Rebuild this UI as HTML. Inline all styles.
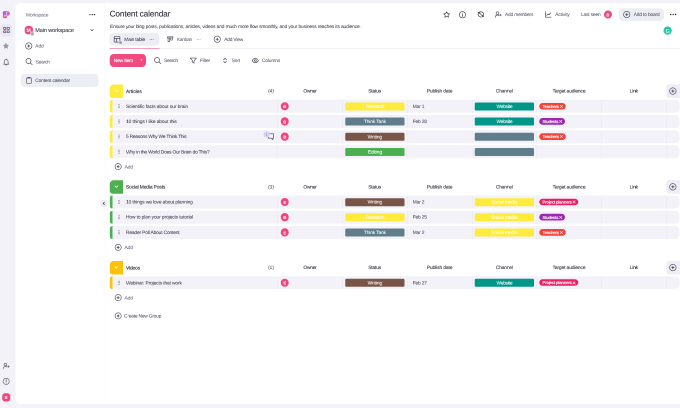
<!DOCTYPE html>
<html lang="en">
<head>
<meta charset="utf-8">
<meta name="viewport" content="width=680">
<title>Content calendar</title>
<style>
*{box-sizing:border-box;margin:0;padding:0}
html,body{width:680px;height:408px;overflow:hidden;background:#f3f2f9}
body{font-family:"Liberation Sans",Arial,Helvetica,sans-serif;position:relative;text-rendering:geometricPrecision;-webkit-font-smoothing:antialiased}
#wrap{position:absolute;left:0;top:0;width:1360px;height:816px;transform:scale(.5);transform-origin:0 0;will-change:transform;overflow:hidden;background:#f3f2f9}
#app{position:absolute;left:0;top:0;width:2720px;height:1632px;transform:scale(.5);transform-origin:0 0;background:#f3f2f9;overflow:hidden}
#app div,#app svg,#app .t{position:absolute}
.t{white-space:nowrap;display:block}
nav,aside,main,header,section{display:block;position:static}
</style>
</head>
<body>
<div id="wrap">
<div id="app">
<div style="left:61.8px;top:12px;width:2662px;height:1604px;background:#fff;border-radius:18px 0px 0px 18px;"></div>
<nav class="rail" aria-label="Primary">
<svg class="i" style="left:10.4px;top:42.8px;width:30.4px;height:30px" viewBox="0 0 24 24"><defs><linearGradient id="lg" x1="0" y1="0" x2="0.35" y2="1"><stop offset="0" stop-color="#7468f8"/><stop offset=".5" stop-color="#b765e6"/><stop offset="1" stop-color="#f5486f"/></linearGradient><linearGradient id="lg2" x1="0" y1="0" x2="1" y2="1"><stop offset="0" stop-color="#c77ae8"/><stop offset="1" stop-color="#f4517f"/></linearGradient></defs><path d="M1 6a5 5 0 0 1 5-5h8v18.500a4.500 4.500 0 0 1-4.500 4.500h-4a4.500 4.500 0 0 1-4.500-4.500z" fill="url(#lg)"/><path d="M13 1.500h3.500a7 7 0 0 1 0 14H13z" fill="url(#lg2)"/><path d="M12.700 4v10M5 14.500h6.500M5 19.500h4" fill="none" stroke="#fff" stroke-width="2" stroke-linecap="round" opacity=".8"/></svg>
<div style="left:1.2px;top:96.4px;width:48px;height:51.2px;background:#e8e7f2;border-radius:16.8px;"></div>
<div style="left:12.6px;top:108.2px;width:12px;height:11.2px;border-radius:2.8px;border:3.8px solid #714a68;"></div>
<div style="left:26.6px;top:108.2px;width:12px;height:11.2px;border-radius:2.8px;border:3.8px solid #5c5c8a;"></div>
<div style="left:12.6px;top:122.2px;width:12px;height:9.6px;border-radius:2.8px;border:3.8px solid #933f5c;"></div>
<div style="left:26.6px;top:122.2px;width:12px;height:9.6px;border-radius:2.8px;border:3.8px solid #58649c;"></div>
<svg class="i" style="left:9.2px;top:169.2px;width:29.6px;height:29.6px;color:#9898a2;" viewBox="0 0 24 24" fill="currentColor" stroke="currentColor" stroke-width="1.4" stroke-linecap="round" stroke-linejoin="round"><path d="M12 3l2.700 5.700 6.300.800-4.600 4.400 1.200 6.200L12 17l-5.600 3.100 1.200-6.200L3 9.500l6.300-.800z"/></svg>
<svg class="i" style="left:8.8px;top:231.6px;width:31.2px;height:31.2px;color:#55556a;" viewBox="0 0 24 24" fill="none" stroke="currentColor" stroke-width="2.0" stroke-linecap="round" stroke-linejoin="round"><path d="M6 17V11a6 6 0 0 1 12 0v6l2 2.200H4zM9.500 21.500h5M12 3v2"/></svg>
<svg class="i" style="left:10px;top:1448.8px;width:30.4px;height:30.4px;color:#4a4a5c;" viewBox="0 0 24 24" fill="none" stroke="currentColor" stroke-width="1.8" stroke-linecap="round" stroke-linejoin="round"><circle cx="9.500" cy="7.500" r="4.400"/><path d="M2.200 21c.300-4.800 3.300-7.400 7.300-7.400 2 0 3.600.600 4.900 1.800M19 10.500v6M16 13.500h6"/></svg>
<svg class="i" style="left:9.4px;top:1510.4px;width:31.2px;height:31.2px;color:#4a4a5c;" viewBox="0 0 24 24" fill="none" stroke="currentColor" stroke-width="1.8" stroke-linecap="round" stroke-linejoin="round"><circle cx="12" cy="12" r="9.500"/><path d="M12 6.500v7M12 17v.500" stroke-width="2.200"/></svg>
<div style="left:8.8px;top:1573.2px;width:32px;height:32.4px;background:#f0457d;border-radius:11.2px;"></div>
<span id="t1" class="t" style="top:1579.17px;font-size:16.8px;line-height:23.52px;color:#fff;font-weight:700;left:24.8px;transform:translateX(-50%);">B</span>
</nav>
<aside class="sidebar" aria-label="Workspace">
<span id="t2" class="t" style="top:46.79px;font-size:19.2px;line-height:26.88px;color:#767688;-webkit-text-stroke:0.2px #767688;letter-spacing:-0.625px;left:103px;">Workspace</span>
<div style="left:356.6px;top:55.6px;width:5.6px;height:5.6px;background:#33333f;border-radius:2.8px;"></div>
<div style="left:366px;top:55.6px;width:5.6px;height:5.6px;background:#33333f;border-radius:2.8px;"></div>
<div style="left:375.4px;top:55.6px;width:5.6px;height:5.6px;background:#33333f;border-radius:2.8px;"></div>
<div style="left:98.8px;top:104.4px;width:32.8px;height:32.8px;background:#f0457d;border-radius:12px;"></div>
<span id="t3" class="t" style="top:106.61px;font-size:20.8px;line-height:29.12px;color:#fff;font-weight:700;left:114.8px;transform:translateX(-50%);">M</span>
<div style="left:119.6px;top:126.4px;width:18.4px;height:18.4px;background:#adadb9;border-radius:9.2px;border:2.4px solid #fff;"></div>
<span id="t4" class="t" style="top:104.62px;font-size:22.4px;line-height:31.36px;color:#464652;-webkit-text-stroke:0.48px #464652;letter-spacing:-0.556px;left:141px;">Main workspace</span>
<svg class="i" style="left:357.6px;top:110.4px;width:20.8px;height:20.8px;color:#33333f;" viewBox="0 0 24 24" fill="none" stroke="currentColor" stroke-width="2.6" stroke-linecap="round" stroke-linejoin="round"><path d="M6 9l6 6 6-6"/></svg>
<svg class="i" style="left:99px;top:168px;width:32px;height:32px;color:#4a4a5a;" viewBox="0 0 24 24" fill="none" stroke="currentColor" stroke-width="1.9" stroke-linecap="round" stroke-linejoin="round"><circle cx="12" cy="12" r="9.5"/><path d="M12 8.700v6.600M8.700 12h6.600" stroke-width="2.600"/></svg>
<span id="t5" class="t" style="top:171.79px;font-size:19.2px;line-height:26.88px;color:#666678;-webkit-text-stroke:0.2px #666678;letter-spacing:-0.047px;left:141px;">Add</span>
<svg class="i" style="left:100px;top:230.4px;width:32px;height:32px;color:#4a4a5a;" viewBox="0 0 24 24" fill="none" stroke="currentColor" stroke-width="2.0" stroke-linecap="round" stroke-linejoin="round"><circle cx="10.5" cy="10.5" r="7.5"/><path d="M16 16l5.5 5.5"/></svg>
<span id="t6" class="t" style="top:235.39px;font-size:19.2px;line-height:26.88px;color:#666678;-webkit-text-stroke:0.2px #666678;letter-spacing:-0.799px;left:143px;">Search</span>
<div style="left:82.4px;top:282.8px;width:313.6px;height:1.2px;background:#ececf3;"></div>
<div style="left:83px;top:295.2px;width:312.4px;height:52.8px;background:#ededf4;border-radius:16px;"></div>
<svg class="i" style="left:100px;top:305.2px;width:31.2px;height:31.2px;color:#55556a;" viewBox="0 0 24 24" fill="none" stroke="currentColor" stroke-width="2.0" stroke-linecap="round" stroke-linejoin="round"><rect x="4.5" y="5" width="15" height="17" rx="2.5"/><path d="M8.5 5V3.2h7V5" /><path d="M8.5 5.2h7" stroke-width="2.6"/></svg>
<span id="t7" class="t" style="top:309.39px;font-size:19.2px;line-height:26.88px;color:#4c4c5e;-webkit-text-stroke:0.2px #4c4c5e;letter-spacing:-0.446px;left:141px;">Content calendar</span>
<div style="left:417.6px;top:12px;width:1.6px;height:1584px;background:#ececf3;"></div>
<div style="left:401.6px;top:799.6px;width:28px;height:28px;background:#ececf3;border-radius:8px;"></div>
<svg class="i" style="left:405.6px;top:804px;width:19.2px;height:19.2px;color:#2c2c38;" viewBox="0 0 24 24" fill="none" stroke="currentColor" stroke-width="3.4" stroke-linecap="round" stroke-linejoin="round"><path d="M14.500 6l-6 6 6 6"/></svg>
</aside>
<main class="board">
<header class="board-header">
<span id="t8" class="t" style="top:32.43px;font-size:33.2px;line-height:46.48px;color:#33333f;-webkit-text-stroke:0.4px #33333f;letter-spacing:-0.648px;left:438.4px;">Content calendar</span>
<span id="t9" class="t" style="top:93.79px;font-size:19.2px;line-height:26.88px;color:#444454;-webkit-text-stroke:0.2px #444454;letter-spacing:-0.444px;left:440px;">Ensure your blog posts, publications, articles, videos and much more flow smoothly, and your business reaches its audience.</span>
<svg class="i" style="left:1771.4px;top:42.8px;width:31.2px;height:31.2px;color:#3a3a4a;" viewBox="0 0 24 24" fill="none" stroke="currentColor" stroke-width="2.0" stroke-linecap="round" stroke-linejoin="round"><path d="M12 3l2.700 5.700 6.300.800-4.600 4.400 1.200 6.200L12 17l-5.600 3.100 1.200-6.200L3 9.500l6.300-.800z"/></svg>
<svg class="i" style="left:1833.6px;top:42.8px;width:32px;height:32px;color:#3a3a4a;" viewBox="0 0 24 24" fill="none" stroke="currentColor" stroke-width="1.8" stroke-linecap="round" stroke-linejoin="round"><circle cx="12" cy="12" r="9.500"/><path d="M12 11v6M12 7.200v.600" stroke-width="2.2"/></svg>
<div style="left:1885.6px;top:32px;width:1.4px;height:52px;background:#e0e0e8;"></div>
<svg class="i" style="left:1908.4px;top:42.4px;width:31.2px;height:31.2px;color:#3a3a4a;" viewBox="0 0 24 24" fill="none" stroke="currentColor" stroke-width="2.0" stroke-linecap="round" stroke-linejoin="round"><path d="M5.500 6.500A9 9 0 0 1 20.500 15M18.500 17.500A9 9 0 0 1 3.500 9M6 6l12 12"/><path d="M2.500 5.500l4.500 0 0 4.500zM21.500 18.500l-4.500 0 0-4.500z" fill="currentColor" stroke-width="1"/></svg>
<svg class="i" style="left:1978px;top:42.8px;width:30.4px;height:30.4px;color:#3a3a4a;" viewBox="0 0 24 24" fill="none" stroke="currentColor" stroke-width="1.8" stroke-linecap="round" stroke-linejoin="round"><circle cx="9.500" cy="7.500" r="4.400"/><path d="M2.200 21c.300-4.800 3.300-7.400 7.300-7.400 2 0 3.600.600 4.900 1.800M19 10.500v6M16 13.500h6"/></svg>
<span id="t10" class="t" style="top:46.19px;font-size:19.2px;line-height:26.88px;color:#5a5a6c;-webkit-text-stroke:0.2px #5a5a6c;letter-spacing:-0.585px;left:2020px;">Add members</span>
<svg class="i" style="left:2178.4px;top:42.4px;width:30.4px;height:30.4px;color:#3a3a4a;" viewBox="0 0 24 24" fill="none" stroke="currentColor" stroke-width="2.0" stroke-linecap="round" stroke-linejoin="round"><path d="M3 3v18h18M7 15.500l4-5 3.500 3L20 7"/></svg>
<span id="t11" class="t" style="top:46.19px;font-size:19.2px;line-height:26.88px;color:#5a5a6c;-webkit-text-stroke:0.2px #5a5a6c;letter-spacing:-0.348px;left:2221px;">Activity</span>
<span id="t12" class="t" style="top:46.19px;font-size:19.2px;line-height:26.88px;color:#5a5a6c;-webkit-text-stroke:0.2px #5a5a6c;letter-spacing:-0.580px;left:2324px;">Last seen</span>
<div style="left:2415.8px;top:42.4px;width:32px;height:32px;background:#f0457d;border-radius:16px;"></div>
<span id="t13" class="t" style="top:48.37px;font-size:16.8px;line-height:23.52px;color:#fff;font-weight:700;left:2431.8px;transform:translateX(-50%);">B</span>
<div style="left:2476px;top:32.8px;width:180px;height:51.6px;background:#ededf4;border-radius:15.2px;"></div>
<svg class="i" style="left:2491px;top:42.4px;width:32px;height:32px;color:#4a4a5a;" viewBox="0 0 24 24" fill="none" stroke="currentColor" stroke-width="1.9" stroke-linecap="round" stroke-linejoin="round"><circle cx="12" cy="12" r="9.5"/><path d="M12 8.700v6.600M8.700 12h6.600" stroke-width="2.600"/></svg>
<span id="t14" class="t" style="top:46.19px;font-size:19.2px;line-height:26.88px;color:#55556a;-webkit-text-stroke:0.2px #55556a;letter-spacing:-0.574px;left:2535px;">Add to board</span>
<div style="left:2680.2px;top:55.2px;width:5.6px;height:5.6px;background:#33333f;border-radius:2.8px;"></div>
<div style="left:2689.6px;top:55.2px;width:5.6px;height:5.6px;background:#33333f;border-radius:2.8px;"></div>
<div style="left:2699px;top:55.2px;width:5.6px;height:5.6px;background:#33333f;border-radius:2.8px;"></div>
<div style="left:2654.4px;top:106.4px;width:32.8px;height:32.8px;background:#1cc69d;border-radius:16.4px;"></div>
<span id="t15" class="t" style="top:108.62px;font-size:22.4px;line-height:31.36px;color:#fff;-webkit-text-stroke:0.32px #fff;left:2670.8px;transform:translateX(-50%);">G</span>
</header>
<nav class="views" aria-label="Views">
<div style="left:438px;top:131px;width:200px;height:52px;background:#ededf4;border-radius:15.2px;"></div>
<svg class="i" style="left:453.2px;top:141.6px;width:30.4px;height:30.4px;color:#4a4a5a;" viewBox="0 0 24 24" fill="none" stroke="currentColor" stroke-width="2.2" stroke-linecap="round" stroke-linejoin="round"><rect x="3" y="3" width="18" height="18" rx="2"/><path d="M3 9h18M10 9v12"/></svg>
<div style="left:474.4px;top:163.2px;width:15.2px;height:15.2px;background:#9a9aa8;border-radius:7.6px;border:2px solid #f0f0f7;"></div>
<span id="t16" class="t" style="top:144.99px;font-size:19.2px;line-height:26.88px;color:#3a3a4a;-webkit-text-stroke:0.2px #3a3a4a;letter-spacing:-0.553px;left:497px;">Main table</span>
<div style="left:599.12px;top:155.92px;width:3.36px;height:3.36px;background:#55556a;border-radius:1.68px;"></div>
<div style="left:605.32px;top:155.92px;width:3.36px;height:3.36px;background:#55556a;border-radius:1.68px;"></div>
<div style="left:611.52px;top:155.92px;width:3.36px;height:3.36px;background:#55556a;border-radius:1.68px;"></div>
<svg class="i" style="left:664.8px;top:141.6px;width:31.2px;height:31.2px;color:#4a4a5a;" viewBox="0 0 24 24" fill="none" stroke="currentColor" stroke-width="1.9" stroke-linecap="round" stroke-linejoin="round"><path d="M3.500 4h17v3.500h-17zM5.500 7.500v11h5v-11M13.500 7.500v6.500h5v-6.500"/></svg>
<span id="t17" class="t" style="top:144.99px;font-size:19.2px;line-height:26.88px;color:#66667a;-webkit-text-stroke:0.2px #66667a;letter-spacing:-0.859px;left:707px;">Kanban</span>
<div style="left:786.52px;top:155.92px;width:3.36px;height:3.36px;background:#77778a;border-radius:1.68px;"></div>
<div style="left:792.72px;top:155.92px;width:3.36px;height:3.36px;background:#77778a;border-radius:1.68px;"></div>
<div style="left:798.92px;top:155.92px;width:3.36px;height:3.36px;background:#77778a;border-radius:1.68px;"></div>
<svg class="i" style="left:853.2px;top:140.8px;width:32px;height:32px;color:#4a4a5a;" viewBox="0 0 24 24" fill="none" stroke="currentColor" stroke-width="1.9" stroke-linecap="round" stroke-linejoin="round"><circle cx="12" cy="12" r="9.5"/><path d="M12 8.700v6.600M8.700 12h6.600" stroke-width="2.600"/></svg>
<span id="t18" class="t" style="top:144.99px;font-size:19.2px;line-height:26.88px;color:#55556a;-webkit-text-stroke:0.2px #55556a;letter-spacing:-0.715px;left:897px;">Add View</span>
<div style="left:438px;top:192px;width:2282px;height:2px;background:#e3e3eb;"></div>
<div style="left:438px;top:192px;width:200px;height:3px;background:#f27fa4;"></div>
</nav>
<section class="toolbar" aria-label="Toolbar">
<div style="left:438.8px;top:216.4px;width:145.6px;height:51.6px;background:#f14a80;border-radius:16px;"></div>
<span id="t19" class="t" style="top:230.19px;font-size:19.2px;line-height:26.88px;color:#fff;-webkit-text-stroke:0.52px #fff;letter-spacing:-0.506px;left:455px;">New Item</span>
<div style="left:561.4px;top:238px;width:0;height:0;border-left:5px solid transparent;border-right:5px solid transparent;border-top:5.8px solid #fff"></div>
<svg class="i" style="left:614px;top:226px;width:32px;height:32px;color:#4a4a5a;" viewBox="0 0 24 24" fill="none" stroke="currentColor" stroke-width="2.0" stroke-linecap="round" stroke-linejoin="round"><circle cx="10.5" cy="10.5" r="7.5"/><path d="M16 16l5.5 5.5"/></svg>
<span id="t20" class="t" style="top:229.79px;font-size:19.2px;line-height:26.88px;color:#5e5e74;-webkit-text-stroke:0.2px #5e5e74;letter-spacing:-0.966px;left:656px;">Search</span>
<svg class="i" style="left:756.8px;top:225.6px;width:32.8px;height:32.8px;color:#4a4a5a;" viewBox="0 0 24 24" fill="none" stroke="currentColor" stroke-width="2.0" stroke-linecap="round" stroke-linejoin="round"><path d="M3 4.5h18l-7 8.5v6.5l-4 -2V13z"/></svg>
<span id="t21" class="t" style="top:229.79px;font-size:19.2px;line-height:26.88px;color:#5e5e74;-webkit-text-stroke:0.2px #5e5e74;letter-spacing:-0.440px;left:800px;">Filter</span>
<svg class="i" style="left:884.8px;top:226.8px;width:30.4px;height:30.4px;color:#4a4a5a;" viewBox="0 0 24 24" fill="none" stroke="currentColor" stroke-width="2.2" stroke-linecap="round" stroke-linejoin="round"><path d="M7.5 9.5L12 5l4.5 4.5M7.5 14.5L12 19l4.5-4.5"/></svg>
<span id="t22" class="t" style="top:229.79px;font-size:19.2px;line-height:26.88px;color:#5e5e74;-webkit-text-stroke:0.2px #5e5e74;letter-spacing:-0.551px;left:927px;">Sort</span>
<svg class="i" style="left:1006px;top:226.8px;width:30.4px;height:30.4px;color:#4a4a5a;" viewBox="0 0 24 24" fill="none" stroke="currentColor" stroke-width="2.1" stroke-linecap="round" stroke-linejoin="round"><path d="M2.500 12c2.500-4.800 5.800-7 9.500-7s7 2.200 9.500 7c-2.500 4.800-5.800 7-9.500 7s-7-2.200-9.500-7z"/><circle cx="12" cy="12" r="3.200"/></svg>
<span id="t23" class="t" style="top:229.79px;font-size:19.2px;line-height:26.88px;color:#5e5e74;-webkit-text-stroke:0.2px #5e5e74;letter-spacing:-0.531px;left:1048px;">Columns</span>
</section>
<section class="group" aria-label="Articles">
<div style="left:439px;top:338px;width:53.4px;height:54px;background:#ffeb3b;border-radius:16px 0px 0px 12px;"></div>
<svg class="i" style="left:454.4px;top:352px;width:23.2px;height:23.2px;color:#fff;" viewBox="0 0 24 24" fill="none" stroke="currentColor" stroke-width="3.6" stroke-linecap="round" stroke-linejoin="round"><path d="M6 9l6 6 6-6"/></svg>
<span id="t24" class="t" style="top:351.5px;font-size:19.6px;line-height:27.44px;color:#363642;-webkit-text-stroke:0.52px #363642;letter-spacing:-0.156px;left:504px;">Articles</span>
<span id="t25" class="t" style="top:351.79px;font-size:19.2px;line-height:26.88px;color:#484856;-webkit-text-stroke:0.2px #484856;left:1084px;transform:translateX(-50%);">(4)</span>
<span id="t26" class="t" style="top:351.79px;font-size:19.2px;line-height:26.88px;color:#3a3a46;-webkit-text-stroke:0.44px #3a3a46;letter-spacing:-0.743px;left:1240px;transform:translateX(-50%);">Owner</span>
<span id="t27" class="t" style="top:351.79px;font-size:19.2px;line-height:26.88px;color:#3a3a46;-webkit-text-stroke:0.44px #3a3a46;letter-spacing:-0.534px;left:1498.4px;transform:translateX(-50%);">Status</span>
<span id="t28" class="t" style="top:351.79px;font-size:19.2px;line-height:26.88px;color:#3a3a46;-webkit-text-stroke:0.44px #3a3a46;letter-spacing:-0.301px;left:1758.4px;transform:translateX(-50%);">Publish date</span>
<span id="t29" class="t" style="top:351.79px;font-size:19.2px;line-height:26.88px;color:#3a3a46;-webkit-text-stroke:0.44px #3a3a46;letter-spacing:-0.612px;left:2017.2px;transform:translateX(-50%);">Channel</span>
<span id="t30" class="t" style="top:351.79px;font-size:19.2px;line-height:26.88px;color:#3a3a46;-webkit-text-stroke:0.44px #3a3a46;letter-spacing:-0.356px;left:2276px;transform:translateX(-50%);">Target audience</span>
<span id="t31" class="t" style="top:351.79px;font-size:19.2px;line-height:26.88px;color:#3a3a46;-webkit-text-stroke:0.44px #3a3a46;letter-spacing:-0.501px;left:2535.2px;transform:translateX(-50%);">Link</span>
<div style="left:2664.8px;top:337.2px;width:56px;height:54.8px;background:#efeef6;border-radius:12px 0px 0px 12px;"></div>
<svg class="i" style="left:2674.8px;top:348px;width:32.8px;height:32.8px;color:#4a4a5a;" viewBox="0 0 24 24" fill="none" stroke="currentColor" stroke-width="1.9" stroke-linecap="round" stroke-linejoin="round"><circle cx="12" cy="12" r="9.5"/><path d="M12 8.700v6.600M8.700 12h6.600" stroke-width="2.600"/></svg>
<div style="left:439px;top:399px;width:2279.4px;height:52px;background:#f3f2f9;border-radius:10.4px 18px 18px 10.4px;overflow:hidden;"><div style="left:0;top:0;width:10.8px;height:100%;background:#ffeb3b"></div></div>
<div style="left:1110px;top:399px;width:1.4px;height:52px;background:#dfdfe9;"></div>
<div style="left:1370px;top:399px;width:1.4px;height:52px;background:#dfdfe9;"></div>
<div style="left:1629.6px;top:399px;width:1.4px;height:52px;background:#dfdfe9;"></div>
<div style="left:1888px;top:399px;width:1.4px;height:52px;background:#dfdfe9;"></div>
<div style="left:2146px;top:399px;width:1.4px;height:52px;background:#dfdfe9;"></div>
<div style="left:2405px;top:399px;width:1.4px;height:52px;background:#dfdfe9;"></div>
<div style="left:2665.6px;top:399px;width:1.4px;height:52px;background:#dfdfe9;"></div>
<div style="left:473.92px;top:416.72px;width:4.16px;height:4.16px;background:#4c4c5c;border-radius:2.08px;"></div>
<div style="left:473.92px;top:422.72px;width:4.16px;height:4.16px;background:#4c4c5c;border-radius:2.08px;"></div>
<div style="left:473.92px;top:428.72px;width:4.16px;height:4.16px;background:#4c4c5c;border-radius:2.08px;"></div>
<span id="t32" class="t" style="top:412.59px;font-size:19.2px;line-height:26.88px;color:#3e3e4c;-webkit-text-stroke:0.2px #3e3e4c;letter-spacing:-0.283px;left:504px;">Scientific facts about our brain</span>
<div style="left:1122.8px;top:408.6px;width:32.4px;height:32.4px;background:#f0457d;border-radius:16.2px;"></div>
<span id="t33" class="t" style="top:414.97px;font-size:16.8px;line-height:23.52px;color:#fff;font-weight:700;left:1139px;transform:translateX(-50%);">B</span>
<div style="left:1381.2px;top:409.6px;width:236.4px;height:32px;background:#ffeb3b;border-radius:5.2px;"></div>
<span id="t34" class="t" style="top:412.99px;font-size:19.2px;line-height:26.88px;color:#fff;-webkit-text-stroke:0.2px #fff;letter-spacing:-1.016px;left:1499.6px;transform:translateX(-50%);">Research</span>
<span id="t35" class="t" style="top:412.59px;font-size:19.2px;line-height:26.88px;color:#505062;-webkit-text-stroke:0.2px #505062;letter-spacing:-0.609px;left:1651px;">Mar 1</span>
<div style="left:1898.8px;top:409.6px;width:237.6px;height:32px;background:#009688;border-radius:5.2px;"></div>
<span id="t36" class="t" style="top:412.99px;font-size:19.2px;line-height:26.88px;color:#fff;-webkit-text-stroke:0.2px #fff;letter-spacing:-0.824px;left:2017.6px;transform:translateX(-50%);">Website</span>
<div style="left:2157px;top:411.6px;width:106px;height:26.4px;background:#f44336;border-radius:13.2px;"></div>
<span id="t37" class="t" style="top:413.77px;font-size:16.8px;line-height:23.52px;color:#fff;-webkit-text-stroke:0.68px #fff;letter-spacing:-0.362px;left:2170px;">Teachers</span>
<span id="t38" class="t" style="top:408.85px;font-size:24.8px;line-height:34.72px;color:#fff;-webkit-text-stroke:0.4px #fff;left:2245.8px;transform:translateX(-50%);">×</span>
<div style="left:439px;top:459.8px;width:2279.4px;height:52px;background:#f3f2f9;border-radius:10.4px 18px 18px 10.4px;overflow:hidden;"><div style="left:0;top:0;width:10.8px;height:100%;background:#ffeb3b"></div></div>
<div style="left:1110px;top:459.8px;width:1.4px;height:52px;background:#dfdfe9;"></div>
<div style="left:1370px;top:459.8px;width:1.4px;height:52px;background:#dfdfe9;"></div>
<div style="left:1629.6px;top:459.8px;width:1.4px;height:52px;background:#dfdfe9;"></div>
<div style="left:1888px;top:459.8px;width:1.4px;height:52px;background:#dfdfe9;"></div>
<div style="left:2146px;top:459.8px;width:1.4px;height:52px;background:#dfdfe9;"></div>
<div style="left:2405px;top:459.8px;width:1.4px;height:52px;background:#dfdfe9;"></div>
<div style="left:2665.6px;top:459.8px;width:1.4px;height:52px;background:#dfdfe9;"></div>
<div style="left:473.92px;top:477.52px;width:4.16px;height:4.16px;background:#4c4c5c;border-radius:2.08px;"></div>
<div style="left:473.92px;top:483.52px;width:4.16px;height:4.16px;background:#4c4c5c;border-radius:2.08px;"></div>
<div style="left:473.92px;top:489.52px;width:4.16px;height:4.16px;background:#4c4c5c;border-radius:2.08px;"></div>
<span id="t39" class="t" style="top:473.39px;font-size:19.2px;line-height:26.88px;color:#3e3e4c;-webkit-text-stroke:0.2px #3e3e4c;letter-spacing:-0.304px;left:504px;">10 things I like about this</span>
<div style="left:1122.8px;top:469.4px;width:32.4px;height:32.4px;background:#f0457d;border-radius:16.2px;"></div>
<span id="t40" class="t" style="top:475.77px;font-size:16.8px;line-height:23.52px;color:#fff;font-weight:700;left:1139px;transform:translateX(-50%);">B</span>
<div style="left:1381.2px;top:470.4px;width:236.4px;height:32px;background:#607d8b;border-radius:5.2px;"></div>
<span id="t41" class="t" style="top:473.79px;font-size:19.2px;line-height:26.88px;color:#fff;-webkit-text-stroke:0.2px #fff;letter-spacing:-0.444px;left:1499.6px;transform:translateX(-50%);">Think Tank</span>
<span id="t42" class="t" style="top:473.39px;font-size:19.2px;line-height:26.88px;color:#505062;-webkit-text-stroke:0.2px #505062;letter-spacing:-0.625px;left:1651px;">Feb 28</span>
<div style="left:1898.8px;top:470.4px;width:237.6px;height:32px;background:#009688;border-radius:5.2px;"></div>
<span id="t43" class="t" style="top:473.79px;font-size:19.2px;line-height:26.88px;color:#fff;-webkit-text-stroke:0.2px #fff;letter-spacing:-0.824px;left:2017.6px;transform:translateX(-50%);">Website</span>
<div style="left:2157px;top:472.4px;width:103px;height:26.4px;background:#9c27b0;border-radius:13.2px;"></div>
<span id="t44" class="t" style="top:474.57px;font-size:16.8px;line-height:23.52px;color:#fff;-webkit-text-stroke:0.68px #fff;letter-spacing:-0.431px;left:2170px;">Students</span>
<span id="t45" class="t" style="top:469.65px;font-size:24.8px;line-height:34.72px;color:#fff;-webkit-text-stroke:0.4px #fff;left:2242.8px;transform:translateX(-50%);">×</span>
<div style="left:439px;top:520.6px;width:2279.4px;height:52px;background:#f3f2f9;border-radius:10.4px 18px 18px 10.4px;overflow:hidden;"><div style="left:0;top:0;width:10.8px;height:100%;background:#ffeb3b"></div></div>
<div style="left:1110px;top:520.6px;width:1.4px;height:52px;background:#dfdfe9;"></div>
<div style="left:1370px;top:520.6px;width:1.4px;height:52px;background:#dfdfe9;"></div>
<div style="left:1629.6px;top:520.6px;width:1.4px;height:52px;background:#dfdfe9;"></div>
<div style="left:1888px;top:520.6px;width:1.4px;height:52px;background:#dfdfe9;"></div>
<div style="left:2146px;top:520.6px;width:1.4px;height:52px;background:#dfdfe9;"></div>
<div style="left:2405px;top:520.6px;width:1.4px;height:52px;background:#dfdfe9;"></div>
<div style="left:2665.6px;top:520.6px;width:1.4px;height:52px;background:#dfdfe9;"></div>
<div style="left:473.92px;top:538.32px;width:4.16px;height:4.16px;background:#4c4c5c;border-radius:2.08px;"></div>
<div style="left:473.92px;top:544.32px;width:4.16px;height:4.16px;background:#4c4c5c;border-radius:2.08px;"></div>
<div style="left:473.92px;top:550.32px;width:4.16px;height:4.16px;background:#4c4c5c;border-radius:2.08px;"></div>
<span id="t46" class="t" style="top:534.19px;font-size:19.2px;line-height:26.88px;color:#3e3e4c;-webkit-text-stroke:0.2px #3e3e4c;letter-spacing:-0.753px;left:504px;">5 Reasons Why We Think This</span>
<svg class="i" style="left:1068.4px;top:529.6px;width:32px;height:32px;color:#4a4a5a;" viewBox="0 0 24 24" fill="none" stroke="currentColor" stroke-width="2.0" stroke-linecap="round" stroke-linejoin="round"><path d="M4 4h16v13h-2.500v4.500l-5-4.500H4z"/></svg>
<div style="left:1054px;top:525.2px;width:24.8px;height:24.8px;background:#d6d3ee;border-radius:12.4px;"></div>
<span id="t47" class="t" style="top:528.54px;font-size:14.4px;line-height:20.16px;color:#8a88b4;-webkit-text-stroke:0.2px #8a88b4;left:1066.4px;transform:translateX(-50%);">1</span>
<div style="left:1122.8px;top:530.2px;width:32.4px;height:32.4px;background:#f0457d;border-radius:16.2px;"></div>
<span id="t48" class="t" style="top:536.57px;font-size:16.8px;line-height:23.52px;color:#fff;font-weight:700;left:1139px;transform:translateX(-50%);">B</span>
<div style="left:1381.2px;top:531.2px;width:236.4px;height:32px;background:#795548;border-radius:5.2px;"></div>
<span id="t49" class="t" style="top:534.59px;font-size:19.2px;line-height:26.88px;color:#fff;-webkit-text-stroke:0.2px #fff;letter-spacing:-0.194px;left:1499.6px;transform:translateX(-50%);">Writing</span>
<div style="left:1898.8px;top:531.2px;width:237.6px;height:32px;background:#607d8b;border-radius:5.2px;"></div>
<div style="left:2157px;top:533.2px;width:106px;height:26.4px;background:#f44336;border-radius:13.2px;"></div>
<span id="t50" class="t" style="top:535.37px;font-size:16.8px;line-height:23.52px;color:#fff;-webkit-text-stroke:0.68px #fff;letter-spacing:-0.362px;left:2170px;">Teachers</span>
<span id="t51" class="t" style="top:530.45px;font-size:24.8px;line-height:34.72px;color:#fff;-webkit-text-stroke:0.4px #fff;left:2245.8px;transform:translateX(-50%);">×</span>
<div style="left:439px;top:581.4px;width:2279.4px;height:52px;background:#f3f2f9;border-radius:10.4px 18px 18px 10.4px;overflow:hidden;"><div style="left:0;top:0;width:10.8px;height:100%;background:#ffeb3b"></div></div>
<div style="left:1110px;top:581.4px;width:1.4px;height:52px;background:#dfdfe9;"></div>
<div style="left:1370px;top:581.4px;width:1.4px;height:52px;background:#dfdfe9;"></div>
<div style="left:1629.6px;top:581.4px;width:1.4px;height:52px;background:#dfdfe9;"></div>
<div style="left:1888px;top:581.4px;width:1.4px;height:52px;background:#dfdfe9;"></div>
<div style="left:2146px;top:581.4px;width:1.4px;height:52px;background:#dfdfe9;"></div>
<div style="left:2405px;top:581.4px;width:1.4px;height:52px;background:#dfdfe9;"></div>
<div style="left:2665.6px;top:581.4px;width:1.4px;height:52px;background:#dfdfe9;"></div>
<div style="left:473.92px;top:599.12px;width:4.16px;height:4.16px;background:#4c4c5c;border-radius:2.08px;"></div>
<div style="left:473.92px;top:605.12px;width:4.16px;height:4.16px;background:#4c4c5c;border-radius:2.08px;"></div>
<div style="left:473.92px;top:611.12px;width:4.16px;height:4.16px;background:#4c4c5c;border-radius:2.08px;"></div>
<span id="t52" class="t" style="top:594.99px;font-size:19.2px;line-height:26.88px;color:#3e3e4c;-webkit-text-stroke:0.2px #3e3e4c;letter-spacing:-0.697px;left:504px;">Why in the World Does Our Brain do This?</span>
<div style="left:1381.2px;top:592px;width:236.4px;height:32px;background:#4caf50;border-radius:5.2px;"></div>
<span id="t53" class="t" style="top:595.39px;font-size:19.2px;line-height:26.88px;color:#fff;-webkit-text-stroke:0.2px #fff;letter-spacing:-0.382px;left:1499.6px;transform:translateX(-50%);">Editing</span>
<div style="left:1898.8px;top:592px;width:237.6px;height:32px;background:#607d8b;border-radius:5.2px;"></div>
<svg class="i" style="left:457.2px;top:651.4px;width:31.2px;height:31.2px;color:#4a4a5a;" viewBox="0 0 24 24" fill="none" stroke="currentColor" stroke-width="1.9" stroke-linecap="round" stroke-linejoin="round"><circle cx="12" cy="12" r="9.5"/><path d="M12 8.700v6.600M8.700 12h6.600" stroke-width="2.600"/></svg>
<span id="t54" class="t" style="top:655.99px;font-size:19.2px;line-height:26.88px;color:#707084;-webkit-text-stroke:0.2px #707084;letter-spacing:-0.047px;left:498px;">Add</span>
</section>
<section class="group" aria-label="Social Media Posts">
<div style="left:439px;top:721px;width:53.4px;height:54px;background:#4caf50;border-radius:16px 0px 0px 12px;"></div>
<svg class="i" style="left:454.4px;top:735px;width:23.2px;height:23.2px;color:#fff;" viewBox="0 0 24 24" fill="none" stroke="currentColor" stroke-width="3.6" stroke-linecap="round" stroke-linejoin="round"><path d="M6 9l6 6 6-6"/></svg>
<span id="t55" class="t" style="top:734.5px;font-size:19.6px;line-height:27.44px;color:#363642;-webkit-text-stroke:0.52px #363642;letter-spacing:-0.535px;left:504px;">Social Media Posts</span>
<span id="t56" class="t" style="top:734.79px;font-size:19.2px;line-height:26.88px;color:#484856;-webkit-text-stroke:0.2px #484856;left:1084px;transform:translateX(-50%);">(3)</span>
<span id="t57" class="t" style="top:734.79px;font-size:19.2px;line-height:26.88px;color:#3a3a46;-webkit-text-stroke:0.44px #3a3a46;letter-spacing:-0.743px;left:1240px;transform:translateX(-50%);">Owner</span>
<span id="t58" class="t" style="top:734.79px;font-size:19.2px;line-height:26.88px;color:#3a3a46;-webkit-text-stroke:0.44px #3a3a46;letter-spacing:-0.534px;left:1498.4px;transform:translateX(-50%);">Status</span>
<span id="t59" class="t" style="top:734.79px;font-size:19.2px;line-height:26.88px;color:#3a3a46;-webkit-text-stroke:0.44px #3a3a46;letter-spacing:-0.301px;left:1758.4px;transform:translateX(-50%);">Publish date</span>
<span id="t60" class="t" style="top:734.79px;font-size:19.2px;line-height:26.88px;color:#3a3a46;-webkit-text-stroke:0.44px #3a3a46;letter-spacing:-0.612px;left:2017.2px;transform:translateX(-50%);">Channel</span>
<span id="t61" class="t" style="top:734.79px;font-size:19.2px;line-height:26.88px;color:#3a3a46;-webkit-text-stroke:0.44px #3a3a46;letter-spacing:-0.356px;left:2276px;transform:translateX(-50%);">Target audience</span>
<span id="t62" class="t" style="top:734.79px;font-size:19.2px;line-height:26.88px;color:#3a3a46;-webkit-text-stroke:0.44px #3a3a46;letter-spacing:-0.501px;left:2535.2px;transform:translateX(-50%);">Link</span>
<div style="left:2664.8px;top:720.2px;width:56px;height:54.8px;background:#efeef6;border-radius:12px 0px 0px 12px;"></div>
<svg class="i" style="left:2674.8px;top:731px;width:32.8px;height:32.8px;color:#4a4a5a;" viewBox="0 0 24 24" fill="none" stroke="currentColor" stroke-width="1.9" stroke-linecap="round" stroke-linejoin="round"><circle cx="12" cy="12" r="9.5"/><path d="M12 8.700v6.600M8.700 12h6.600" stroke-width="2.600"/></svg>
<div style="left:439px;top:782px;width:2279.4px;height:52px;background:#f3f2f9;border-radius:10.4px 18px 18px 10.4px;overflow:hidden;"><div style="left:0;top:0;width:10.8px;height:100%;background:#4caf50"></div></div>
<div style="left:1110px;top:782px;width:1.4px;height:52px;background:#dfdfe9;"></div>
<div style="left:1370px;top:782px;width:1.4px;height:52px;background:#dfdfe9;"></div>
<div style="left:1629.6px;top:782px;width:1.4px;height:52px;background:#dfdfe9;"></div>
<div style="left:1888px;top:782px;width:1.4px;height:52px;background:#dfdfe9;"></div>
<div style="left:2146px;top:782px;width:1.4px;height:52px;background:#dfdfe9;"></div>
<div style="left:2405px;top:782px;width:1.4px;height:52px;background:#dfdfe9;"></div>
<div style="left:2665.6px;top:782px;width:1.4px;height:52px;background:#dfdfe9;"></div>
<div style="left:473.92px;top:799.72px;width:4.16px;height:4.16px;background:#4c4c5c;border-radius:2.08px;"></div>
<div style="left:473.92px;top:805.72px;width:4.16px;height:4.16px;background:#4c4c5c;border-radius:2.08px;"></div>
<div style="left:473.92px;top:811.72px;width:4.16px;height:4.16px;background:#4c4c5c;border-radius:2.08px;"></div>
<span id="t63" class="t" style="top:795.59px;font-size:19.2px;line-height:26.88px;color:#3e3e4c;-webkit-text-stroke:0.2px #3e3e4c;letter-spacing:-0.391px;left:504px;">10 things we love about planning</span>
<div style="left:1122.8px;top:791.6px;width:32.4px;height:32.4px;background:#f0457d;border-radius:16.2px;"></div>
<span id="t64" class="t" style="top:797.97px;font-size:16.8px;line-height:23.52px;color:#fff;font-weight:700;left:1139px;transform:translateX(-50%);">E</span>
<div style="left:1381.2px;top:792.6px;width:236.4px;height:32px;background:#795548;border-radius:5.2px;"></div>
<span id="t65" class="t" style="top:795.99px;font-size:19.2px;line-height:26.88px;color:#fff;-webkit-text-stroke:0.2px #fff;letter-spacing:-0.194px;left:1499.6px;transform:translateX(-50%);">Writing</span>
<span id="t66" class="t" style="top:795.59px;font-size:19.2px;line-height:26.88px;color:#505062;-webkit-text-stroke:0.2px #505062;letter-spacing:-0.609px;left:1651px;">Mar 2</span>
<div style="left:1898.8px;top:792.6px;width:237.6px;height:32px;background:#ffeb3b;border-radius:5.2px;"></div>
<span id="t67" class="t" style="top:795.99px;font-size:19.2px;line-height:26.88px;color:#fff;-webkit-text-stroke:0.2px #fff;letter-spacing:-0.488px;left:2017.6px;transform:translateX(-50%);">Social media</span>
<div style="left:2157px;top:794.6px;width:156.4px;height:26.4px;background:#e91e63;border-radius:13.2px;"></div>
<span id="t68" class="t" style="top:796.77px;font-size:16.8px;line-height:23.52px;color:#fff;-webkit-text-stroke:0.68px #fff;letter-spacing:-0.279px;left:2170px;">Project planners</span>
<span id="t69" class="t" style="top:791.85px;font-size:24.8px;line-height:34.72px;color:#fff;-webkit-text-stroke:0.4px #fff;left:2296.2px;transform:translateX(-50%);">×</span>
<div style="left:439px;top:842.8px;width:2279.4px;height:52px;background:#f3f2f9;border-radius:10.4px 18px 18px 10.4px;overflow:hidden;"><div style="left:0;top:0;width:10.8px;height:100%;background:#4caf50"></div></div>
<div style="left:1110px;top:842.8px;width:1.4px;height:52px;background:#dfdfe9;"></div>
<div style="left:1370px;top:842.8px;width:1.4px;height:52px;background:#dfdfe9;"></div>
<div style="left:1629.6px;top:842.8px;width:1.4px;height:52px;background:#dfdfe9;"></div>
<div style="left:1888px;top:842.8px;width:1.4px;height:52px;background:#dfdfe9;"></div>
<div style="left:2146px;top:842.8px;width:1.4px;height:52px;background:#dfdfe9;"></div>
<div style="left:2405px;top:842.8px;width:1.4px;height:52px;background:#dfdfe9;"></div>
<div style="left:2665.6px;top:842.8px;width:1.4px;height:52px;background:#dfdfe9;"></div>
<div style="left:473.92px;top:860.52px;width:4.16px;height:4.16px;background:#4c4c5c;border-radius:2.08px;"></div>
<div style="left:473.92px;top:866.52px;width:4.16px;height:4.16px;background:#4c4c5c;border-radius:2.08px;"></div>
<div style="left:473.92px;top:872.52px;width:4.16px;height:4.16px;background:#4c4c5c;border-radius:2.08px;"></div>
<span id="t70" class="t" style="top:856.39px;font-size:19.2px;line-height:26.88px;color:#3e3e4c;-webkit-text-stroke:0.2px #3e3e4c;letter-spacing:-0.336px;left:504px;">How to plan your projects tutorial</span>
<div style="left:1122.8px;top:852.4px;width:32.4px;height:32.4px;background:#f0457d;border-radius:16.2px;"></div>
<span id="t71" class="t" style="top:858.77px;font-size:16.8px;line-height:23.52px;color:#fff;font-weight:700;left:1139px;transform:translateX(-50%);">B</span>
<div style="left:1381.2px;top:853.4px;width:236.4px;height:32px;background:#ffeb3b;border-radius:5.2px;"></div>
<span id="t72" class="t" style="top:856.79px;font-size:19.2px;line-height:26.88px;color:#fff;-webkit-text-stroke:0.2px #fff;letter-spacing:-1.016px;left:1499.6px;transform:translateX(-50%);">Research</span>
<span id="t73" class="t" style="top:856.39px;font-size:19.2px;line-height:26.88px;color:#505062;-webkit-text-stroke:0.2px #505062;letter-spacing:-0.625px;left:1651px;">Feb 25</span>
<div style="left:1898.8px;top:853.4px;width:237.6px;height:32px;background:#ffeb3b;border-radius:5.2px;"></div>
<span id="t74" class="t" style="top:856.79px;font-size:19.2px;line-height:26.88px;color:#fff;-webkit-text-stroke:0.2px #fff;letter-spacing:-0.488px;left:2017.6px;transform:translateX(-50%);">Social media</span>
<div style="left:2157px;top:855.4px;width:103px;height:26.4px;background:#9c27b0;border-radius:13.2px;"></div>
<span id="t75" class="t" style="top:857.57px;font-size:16.8px;line-height:23.52px;color:#fff;-webkit-text-stroke:0.68px #fff;letter-spacing:-0.431px;left:2170px;">Students</span>
<span id="t76" class="t" style="top:852.65px;font-size:24.8px;line-height:34.72px;color:#fff;-webkit-text-stroke:0.4px #fff;left:2242.8px;transform:translateX(-50%);">×</span>
<div style="left:439px;top:903.6px;width:2279.4px;height:52px;background:#f3f2f9;border-radius:10.4px 18px 18px 10.4px;overflow:hidden;"><div style="left:0;top:0;width:10.8px;height:100%;background:#4caf50"></div></div>
<div style="left:1110px;top:903.6px;width:1.4px;height:52px;background:#dfdfe9;"></div>
<div style="left:1370px;top:903.6px;width:1.4px;height:52px;background:#dfdfe9;"></div>
<div style="left:1629.6px;top:903.6px;width:1.4px;height:52px;background:#dfdfe9;"></div>
<div style="left:1888px;top:903.6px;width:1.4px;height:52px;background:#dfdfe9;"></div>
<div style="left:2146px;top:903.6px;width:1.4px;height:52px;background:#dfdfe9;"></div>
<div style="left:2405px;top:903.6px;width:1.4px;height:52px;background:#dfdfe9;"></div>
<div style="left:2665.6px;top:903.6px;width:1.4px;height:52px;background:#dfdfe9;"></div>
<div style="left:473.92px;top:921.32px;width:4.16px;height:4.16px;background:#4c4c5c;border-radius:2.08px;"></div>
<div style="left:473.92px;top:927.32px;width:4.16px;height:4.16px;background:#4c4c5c;border-radius:2.08px;"></div>
<div style="left:473.92px;top:933.32px;width:4.16px;height:4.16px;background:#4c4c5c;border-radius:2.08px;"></div>
<span id="t77" class="t" style="top:917.19px;font-size:19.2px;line-height:26.88px;color:#3e3e4c;-webkit-text-stroke:0.2px #3e3e4c;letter-spacing:-0.529px;left:504px;">Reader Poll About Content</span>
<div style="left:1122.8px;top:913.2px;width:32.4px;height:32.4px;background:#f0457d;border-radius:16.2px;"></div>
<span id="t78" class="t" style="top:919.57px;font-size:16.8px;line-height:23.52px;color:#fff;font-weight:700;left:1139px;transform:translateX(-50%);">E</span>
<div style="left:1381.2px;top:914.2px;width:236.4px;height:32px;background:#607d8b;border-radius:5.2px;"></div>
<span id="t79" class="t" style="top:917.59px;font-size:19.2px;line-height:26.88px;color:#fff;-webkit-text-stroke:0.2px #fff;letter-spacing:-0.444px;left:1499.6px;transform:translateX(-50%);">Think Tank</span>
<span id="t80" class="t" style="top:917.19px;font-size:19.2px;line-height:26.88px;color:#505062;-webkit-text-stroke:0.2px #505062;letter-spacing:-0.609px;left:1651px;">Mar 2</span>
<div style="left:1898.8px;top:914.2px;width:237.6px;height:32px;background:#ffeb3b;border-radius:5.2px;"></div>
<span id="t81" class="t" style="top:917.59px;font-size:19.2px;line-height:26.88px;color:#fff;-webkit-text-stroke:0.2px #fff;letter-spacing:-0.488px;left:2017.6px;transform:translateX(-50%);">Social media</span>
<div style="left:2157px;top:916.2px;width:106px;height:26.4px;background:#f44336;border-radius:13.2px;"></div>
<span id="t82" class="t" style="top:918.37px;font-size:16.8px;line-height:23.52px;color:#fff;-webkit-text-stroke:0.68px #fff;letter-spacing:-0.362px;left:2170px;">Teachers</span>
<span id="t83" class="t" style="top:913.45px;font-size:24.8px;line-height:34.72px;color:#fff;-webkit-text-stroke:0.4px #fff;left:2245.8px;transform:translateX(-50%);">×</span>
<svg class="i" style="left:457.2px;top:973.6px;width:31.2px;height:31.2px;color:#4a4a5a;" viewBox="0 0 24 24" fill="none" stroke="currentColor" stroke-width="1.9" stroke-linecap="round" stroke-linejoin="round"><circle cx="12" cy="12" r="9.5"/><path d="M12 8.700v6.600M8.700 12h6.600" stroke-width="2.600"/></svg>
<span id="t84" class="t" style="top:978.19px;font-size:19.2px;line-height:26.88px;color:#707084;-webkit-text-stroke:0.2px #707084;letter-spacing:-0.047px;left:498px;">Add</span>
</section>
<section class="group" aria-label="Videos">
<div style="left:439px;top:1044px;width:53.4px;height:54px;background:#ffc107;border-radius:16px 0px 0px 12px;"></div>
<svg class="i" style="left:454.4px;top:1058px;width:23.2px;height:23.2px;color:#fff;" viewBox="0 0 24 24" fill="none" stroke="currentColor" stroke-width="3.6" stroke-linecap="round" stroke-linejoin="round"><path d="M6 9l6 6 6-6"/></svg>
<span id="t85" class="t" style="top:1057.5px;font-size:19.6px;line-height:27.44px;color:#363642;-webkit-text-stroke:0.52px #363642;letter-spacing:-0.594px;left:504px;">Videos</span>
<span id="t86" class="t" style="top:1057.79px;font-size:19.2px;line-height:26.88px;color:#484856;-webkit-text-stroke:0.2px #484856;left:1084px;transform:translateX(-50%);">(1)</span>
<span id="t87" class="t" style="top:1057.79px;font-size:19.2px;line-height:26.88px;color:#3a3a46;-webkit-text-stroke:0.44px #3a3a46;letter-spacing:-0.743px;left:1240px;transform:translateX(-50%);">Owner</span>
<span id="t88" class="t" style="top:1057.79px;font-size:19.2px;line-height:26.88px;color:#3a3a46;-webkit-text-stroke:0.44px #3a3a46;letter-spacing:-0.534px;left:1498.4px;transform:translateX(-50%);">Status</span>
<span id="t89" class="t" style="top:1057.79px;font-size:19.2px;line-height:26.88px;color:#3a3a46;-webkit-text-stroke:0.44px #3a3a46;letter-spacing:-0.301px;left:1758.4px;transform:translateX(-50%);">Publish date</span>
<span id="t90" class="t" style="top:1057.79px;font-size:19.2px;line-height:26.88px;color:#3a3a46;-webkit-text-stroke:0.44px #3a3a46;letter-spacing:-0.612px;left:2017.2px;transform:translateX(-50%);">Channel</span>
<span id="t91" class="t" style="top:1057.79px;font-size:19.2px;line-height:26.88px;color:#3a3a46;-webkit-text-stroke:0.44px #3a3a46;letter-spacing:-0.356px;left:2276px;transform:translateX(-50%);">Target audience</span>
<span id="t92" class="t" style="top:1057.79px;font-size:19.2px;line-height:26.88px;color:#3a3a46;-webkit-text-stroke:0.44px #3a3a46;letter-spacing:-0.501px;left:2535.2px;transform:translateX(-50%);">Link</span>
<div style="left:2664.8px;top:1043.2px;width:56px;height:54.8px;background:#efeef6;border-radius:12px 0px 0px 12px;"></div>
<svg class="i" style="left:2674.8px;top:1054px;width:32.8px;height:32.8px;color:#4a4a5a;" viewBox="0 0 24 24" fill="none" stroke="currentColor" stroke-width="1.9" stroke-linecap="round" stroke-linejoin="round"><circle cx="12" cy="12" r="9.5"/><path d="M12 8.700v6.600M8.700 12h6.600" stroke-width="2.600"/></svg>
<div style="left:439px;top:1105px;width:2279.4px;height:52px;background:#f3f2f9;border-radius:10.4px 18px 18px 10.4px;overflow:hidden;"><div style="left:0;top:0;width:10.8px;height:100%;background:#ffc107"></div></div>
<div style="left:1110px;top:1105px;width:1.4px;height:52px;background:#dfdfe9;"></div>
<div style="left:1370px;top:1105px;width:1.4px;height:52px;background:#dfdfe9;"></div>
<div style="left:1629.6px;top:1105px;width:1.4px;height:52px;background:#dfdfe9;"></div>
<div style="left:1888px;top:1105px;width:1.4px;height:52px;background:#dfdfe9;"></div>
<div style="left:2146px;top:1105px;width:1.4px;height:52px;background:#dfdfe9;"></div>
<div style="left:2405px;top:1105px;width:1.4px;height:52px;background:#dfdfe9;"></div>
<div style="left:2665.6px;top:1105px;width:1.4px;height:52px;background:#dfdfe9;"></div>
<div style="left:473.92px;top:1122.72px;width:4.16px;height:4.16px;background:#4c4c5c;border-radius:2.08px;"></div>
<div style="left:473.92px;top:1128.72px;width:4.16px;height:4.16px;background:#4c4c5c;border-radius:2.08px;"></div>
<div style="left:473.92px;top:1134.72px;width:4.16px;height:4.16px;background:#4c4c5c;border-radius:2.08px;"></div>
<span id="t93" class="t" style="top:1118.59px;font-size:19.2px;line-height:26.88px;color:#3e3e4c;-webkit-text-stroke:0.2px #3e3e4c;letter-spacing:-0.417px;left:504px;">Webinar: Projects that work</span>
<div style="left:1122.8px;top:1114.6px;width:32.4px;height:32.4px;background:#f0457d;border-radius:16.2px;"></div>
<span id="t94" class="t" style="top:1120.97px;font-size:16.8px;line-height:23.52px;color:#fff;font-weight:700;left:1139px;transform:translateX(-50%);">E</span>
<div style="left:1381.2px;top:1114.6px;width:236.4px;height:32px;background:#795548;border-radius:5.2px;"></div>
<span id="t95" class="t" style="top:1118.99px;font-size:19.2px;line-height:26.88px;color:#fff;-webkit-text-stroke:0.2px #fff;letter-spacing:-0.194px;left:1499.6px;transform:translateX(-50%);">Writing</span>
<span id="t96" class="t" style="top:1118.59px;font-size:19.2px;line-height:26.88px;color:#505062;-webkit-text-stroke:0.2px #505062;letter-spacing:-0.625px;left:1651px;">Feb 27</span>
<div style="left:1898.8px;top:1114.6px;width:237.6px;height:32px;background:#009688;border-radius:5.2px;"></div>
<span id="t97" class="t" style="top:1118.99px;font-size:19.2px;line-height:26.88px;color:#fff;-webkit-text-stroke:0.2px #fff;letter-spacing:-0.824px;left:2017.6px;transform:translateX(-50%);">Website</span>
<div style="left:2157px;top:1116.6px;width:156.4px;height:26.4px;background:#e91e63;border-radius:13.2px;"></div>
<span id="t98" class="t" style="top:1118.77px;font-size:16.8px;line-height:23.52px;color:#fff;-webkit-text-stroke:0.68px #fff;letter-spacing:-0.279px;left:2170px;">Project planners</span>
<span id="t99" class="t" style="top:1114.85px;font-size:24.8px;line-height:34.72px;color:#fff;-webkit-text-stroke:0.4px #fff;left:2296.2px;transform:translateX(-50%);">×</span>
<svg class="i" style="left:457.2px;top:1175px;width:31.2px;height:31.2px;color:#4a4a5a;" viewBox="0 0 24 24" fill="none" stroke="currentColor" stroke-width="1.9" stroke-linecap="round" stroke-linejoin="round"><circle cx="12" cy="12" r="9.5"/><path d="M12 8.700v6.600M8.700 12h6.600" stroke-width="2.600"/></svg>
<span id="t100" class="t" style="top:1179.59px;font-size:19.2px;line-height:26.88px;color:#707084;-webkit-text-stroke:0.2px #707084;letter-spacing:-0.047px;left:498px;">Add</span>
</section>
<svg class="i" style="left:456.8px;top:1247.8px;width:31.2px;height:31.2px;color:#4a4a5a;" viewBox="0 0 24 24" fill="none" stroke="currentColor" stroke-width="1.9" stroke-linecap="round" stroke-linejoin="round"><circle cx="12" cy="12" r="9.5"/><path d="M12 8.700v6.600M8.700 12h6.600" stroke-width="2.600"/></svg>
<span id="t101" class="t" style="top:1250.99px;font-size:19.2px;line-height:26.88px;color:#55556a;-webkit-text-stroke:0.2px #55556a;letter-spacing:-0.686px;left:496px;">Create New Group</span>
</main>
</div>
</div>
</body>
</html>
